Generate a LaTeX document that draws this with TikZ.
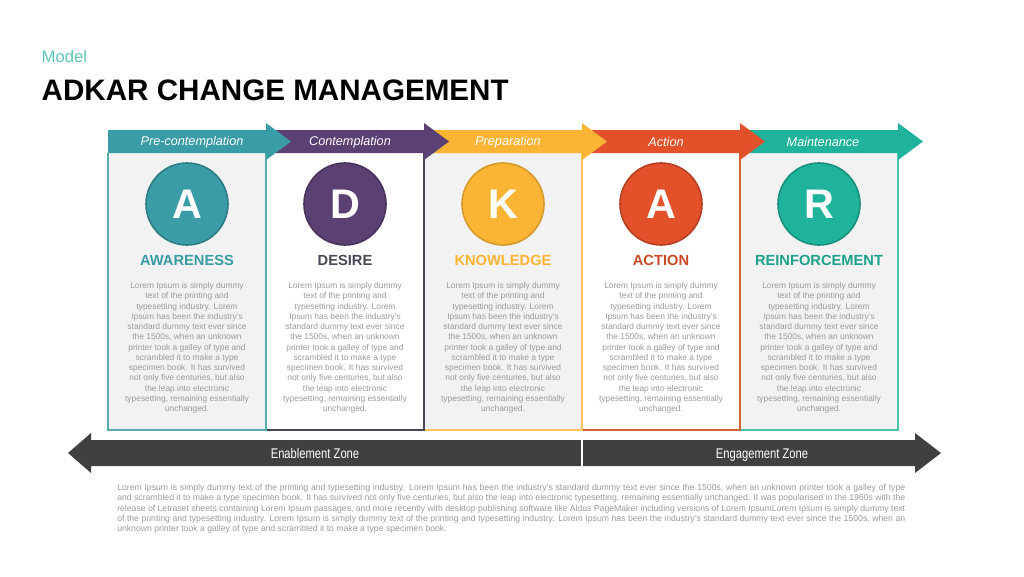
\documentclass[tikz,border=0pt]{standalone}
\usepackage{fontspec}
\setmainfont{Liberation Sans}
\newfontfamily\narrowfont{Liberation Sans}[FakeStretch=0.8]
\usepackage{tikz}
\usetikzlibrary{positioning,shapes}

\definecolor{adkTeal}{HTML}{3A9CA6}
\definecolor{adkPurple}{HTML}{5B4173}
\definecolor{adkYellow}{HTML}{FBB434}
\definecolor{adkOrange}{HTML}{E2512A}
\definecolor{adkGreen}{HTML}{20B39B}
\definecolor{boxGray}{HTML}{F2F2F2}
\definecolor{loremGray}{HTML}{9A9A9A}
\definecolor{zoneDark}{HTML}{404040}
\definecolor{modelTeal}{HTML}{5CC6B8}
\definecolor{desireGray}{HTML}{4B4558}

\newcommand{\boxlorem}{Lorem Ipsum is simply dummy\\
text of the printing and\\
typesetting industry. Lorem\\
Ipsum has been the industry's\\
standard dummy text ever since\\
the 1500s, when an unknown\\
printer took a galley of type and\\
scrambled it to make a type\\
specimen book. It has survived\\
not only five centuries, but also\\
the leap into electronic\\
typesetting, remaining essentially\\
unchanged.}

\newcommand{\footlorem}{Lorem Ipsum is simply dummy text of the printing and typesetting industry. Lorem Ipsum has been the industry's standard dummy text ever since the 1500s, when an unknown printer took a galley of type\linebreak
and scrambled it to make a type specimen book. It has survived not only five centuries, but also the leap into electronic typesetting, remaining essentially unchanged. It was popularised in the 1960s with the\linebreak
release of Letraset sheets containing Lorem Ipsum passages, and more recently with desktop publishing software like Aldus PageMaker including versions of Lorem IpsumLorem Ipsum is simply dummy text\linebreak
of the printing and typesetting industry. Lorem Ipsum is simply dummy text of the printing and typesetting industry. Lorem Ipsum has been the industry's standard dummy text ever since the 1500s, when an\linebreak
unknown printer took a galley of type and scrambled it to make a type specimen book.}

\tikzset{
  stage/.style={text=white, font=\fontsize{9.5}{11}\selectfont\itshape},
  letter/.style={circle, minimum size=61.5pt, inner sep=0pt, line width=1.2pt,
    text=white, font=\fontsize{31}{31}\selectfont\bfseries},
  pillar/.style={font=\fontsize{11}{13}\selectfont\bfseries},
  lorem/.style={align=center, text=loremGray, font=\fontsize{6.3}{7.7}\selectfont},
  zone/.style={anchor=base, text=white, font=\fontsize{10.5}{12}\selectfont\narrowfont}
}

\begin{document}
\begin{tikzpicture}[x=0.75pt,y=-0.75pt]
\useasboundingbox (0,0) rectangle (1024,576);

%%% HELP LINES - uncomment to design/extend
% \draw[step=50,gray,very thin] (0,0) grid (1024,576);

% TITLE
\node[anchor=base west, text=modelTeal, font=\fontsize{12.5}{14}\selectfont] (model) at (37,62) {Model};
\node[anchor=base west, font=\fontsize{22.2}{26}\selectfont\bfseries] (title) at (37,100) {ADKAR CHANGE MANAGEMENT};

%% Boxes (right one first, so the left box keeps its border colour)
\fill[boxGray] (740,153) rectangle (898,430);
\draw[adkGreen!80!white, line width=1.2pt] (740,153) -- (740,430) -- (898,430) -- (898,153);
\fill[white] (582,153) rectangle (740,430);
\draw[adkOrange!60!brown, line width=1.2pt] (582,153) -- (582,430) -- (740,430) -- (740,153);
\fill[boxGray] (424,153) rectangle (582,430);
\draw[adkYellow!80!white, line width=1.2pt] (424,153) -- (424,430) -- (582,430) -- (582,153);
\fill[white] (266,153) rectangle (424,430);
\draw[desireGray, line width=1.2pt] (266,153) -- (266,430) -- (424,430) -- (424,153);
\fill[boxGray] (108,153) rectangle (266,430);
\draw[adkTeal!85!white, line width=1.2pt] (108,153) -- (108,430) -- (266,430) -- (266,153);

%% Stage arrows (right one first, so each head lies on the next band)
% MAINTENANCE
\fill[adkGreen] (740,130) -- (898,130) -- (898,123) -- (923,141.5) -- (898,160) -- (898,153) -- (740,153) -- cycle;
% ACTION
\fill[adkOrange] (582,130) -- (740,130) -- (740,123) -- (765,141.5) -- (740,160) -- (740,153) -- (582,153) -- cycle;
% PREPARATION
\fill[adkYellow] (424,130) -- (582,130) -- (582,123) -- (607,141.5) -- (582,160) -- (582,153) -- (424,153) -- cycle;
% CONTEMPLATION
\fill[adkPurple] (266,130) -- (424,130) -- (424,123) -- (449,141.5) -- (424,160) -- (424,153) -- (266,153) -- cycle;
% PRE-CONTEMPLATION
\fill[adkTeal] (108,130) -- (266,130) -- (266,123) -- (291,141.5) -- (266,160) -- (266,153) -- (108,153) -- cycle;

\node[stage] (stageA) at (192,142) {Pre-contemplation};
\node[stage] (stageD) at (350,142) {Contemplation};
\node[stage] (stageK) at (508,142) {Preparation};
\node[stage] (stageAc) at (666,142) {Action};
\node[stage] (stageR) at (823,142) {Maintenance};

% AWARENESS
\node[letter, fill=adkTeal, draw=adkTeal!80!black] (circA) at (187,204) {A};
\node[pillar, text=adkTeal] (nameA) at (187,260) {AWARENESS};
\node[lorem] (textA) at (187,348) {\boxlorem};

% DESIRE
\node[letter, fill=adkPurple, draw=adkPurple!80!black] (circD) at (345,204) {D};
\node[pillar, text=desireGray] (nameD) at (345,260) {DESIRE};
\node[lorem] (textD) at (345,348) {\boxlorem};

% KNOWLEDGE
\node[letter, fill=adkYellow, draw=adkYellow!85!black] (circK) at (503,204) {K};
\node[pillar, text=adkYellow] (nameK) at (503,260) {KNOWLEDGE};
\node[lorem] (textK) at (503,348) {\boxlorem};

% ACTION
\node[letter, fill=adkOrange, draw=adkOrange!80!black] (circAc) at (661,204) {A};
\node[pillar, text=adkOrange!90!black] (nameAc) at (661,260) {ACTION};
\node[lorem] (textAc) at (661,348) {\boxlorem};

% REINFORCEMENT
\node[letter, fill=adkGreen, draw=adkGreen!80!black] (circR) at (819,204) {R};
\node[pillar, text=adkGreen!90!black] (nameR) at (819,260) {REINFORCEMENT};
\node[lorem] (textR) at (819,348) {\boxlorem};

%% Zone arrow
\fill[zoneDark] (68,453) -- (91,433) -- (91,440) -- (915,440) -- (915,433) -- (941,453)
  -- (915,473) -- (915,466) -- (91,466) -- (91,473) -- cycle;
\draw[white, line width=1.2pt] (582,438) -- (582,468);
\node[zone] (enable) at (315,458) {Enablement Zone};
\node[zone] (engage) at (762,458) {Engagement Zone};

% FOOTNOTE TEXT
\node[anchor=north west, inner sep=0pt, text width=591pt, align=justify, text=loremGray,
  font=\fontsize{6.5}{7.7}\selectfont] (foot) at (117,484) {\footlorem};
\end{tikzpicture}
\end{document}
